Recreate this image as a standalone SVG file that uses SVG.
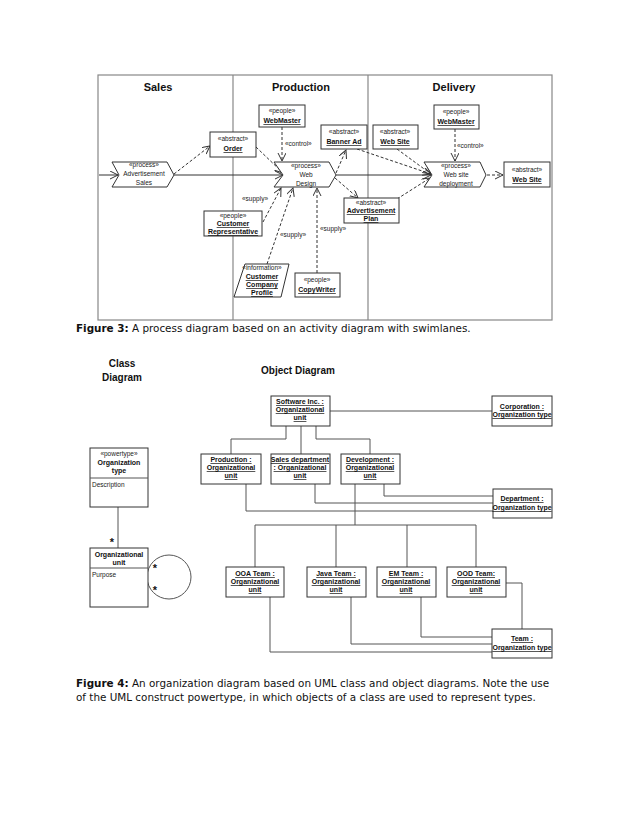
<svg xmlns="http://www.w3.org/2000/svg" width="638" height="826" viewBox="0 0 638 826">
<defs>
<marker id="arr" markerWidth="9" markerHeight="9" refX="8" refY="4" orient="auto" markerUnits="userSpaceOnUse">
<path d="M0,0 L8,4 L0,8" fill="none" stroke="#333" stroke-width="1"/>
</marker>
<style>
.frame{fill:none;stroke:#888;stroke-width:1.2}
.box{fill:#fff;stroke:#333;stroke-width:1}
.st{font-family:"Liberation Sans",Arial,sans-serif;font-size:6.5px;fill:#222;text-anchor:middle}
.nm{font-family:"Liberation Sans",Arial,sans-serif;font-size:7px;font-weight:bold;fill:#111;text-anchor:middle;text-decoration:underline}
.nb{font-family:"Liberation Sans",Arial,sans-serif;font-size:7px;font-weight:bold;fill:#111;text-anchor:middle}
.at{font-family:"Liberation Sans",Arial,sans-serif;font-size:6.5px;fill:#222}
.hd{font-family:"Liberation Sans",Arial,sans-serif;font-size:11px;font-weight:bold;fill:#111;text-anchor:middle}
.hd2{font-family:"Liberation Sans",Arial,sans-serif;font-size:10px;font-weight:bold;fill:#111;text-anchor:middle}
.cap{font-family:"DejaVu Sans",Verdana,sans-serif;font-size:10.4px;fill:#111}
.sol{fill:none;stroke:#333;stroke-width:1}
.dash{fill:none;stroke:#333;stroke-width:1;stroke-dasharray:3,2}
.ln{fill:none;stroke:#555;stroke-width:1}
.star{font-family:"Liberation Sans",Arial,sans-serif;font-size:11px;font-weight:bold;fill:#111;text-anchor:middle}
</style>
</defs>
<rect width="638" height="826" fill="#fff"/>

<!-- Figure 3 -->
<g id="swimlanes">
<rect class="frame" x="98" y="75" width="454" height="245"/>
<line class="frame" x1="233" y1="75" x2="233" y2="320"/>
<line class="frame" x1="368" y1="75" x2="368" y2="320"/>
<text class="hd" x="158" y="91">Sales</text>
<text class="hd" x="301" y="91">Production</text>
<text class="hd" x="454" y="91">Delivery</text>
</g>

<g id="connectors-fig3">
<line class="sol" x1="99" y1="175" x2="118" y2="175" marker-end="url(#arr)"/>
<line class="sol" x1="174" y1="175" x2="283" y2="175" marker-end="url(#arr)"/>
<line class="dash" x1="174" y1="174" x2="210" y2="146" marker-end="url(#arr)"/>
<line class="dash" x1="256" y1="147" x2="283" y2="173" marker-end="url(#arr)"/>
<line class="dash" x1="282" y1="127" x2="282" y2="161" marker-end="url(#arr)"/>
<text class="at" x="285" y="146">«control»</text>
<line class="dash" x1="336" y1="173" x2="346" y2="150" marker-end="url(#arr)"/>
<line class="sol" x1="336" y1="175" x2="431" y2="175" marker-end="url(#arr)"/>
<line class="dash" x1="357" y1="149" x2="431" y2="174" marker-end="url(#arr)"/>
<line class="dash" x1="397" y1="149" x2="431" y2="174" marker-end="url(#arr)"/>
<line class="dash" x1="335" y1="178" x2="358" y2="198" marker-end="url(#arr)"/>
<line class="dash" x1="397" y1="199" x2="430" y2="178" marker-end="url(#arr)"/>
<line class="dash" x1="455" y1="129" x2="455" y2="161" marker-end="url(#arr)"/>
<text class="at" x="457" y="148">«control»</text>
<line class="dash" x1="487" y1="175" x2="503" y2="175" marker-end="url(#arr)"/>
<line class="dash" x1="263" y1="222" x2="281" y2="188" marker-end="url(#arr)"/>
<text class="at" x="242" y="201">«supply»</text>
<line class="dash" x1="267" y1="264" x2="293" y2="188" marker-end="url(#arr)"/>
<text class="at" x="280" y="237">«supply»</text>
<line class="dash" x1="317" y1="273" x2="317" y2="188" marker-end="url(#arr)"/>
<text class="at" x="320" y="231">«supply»</text>
</g>

<g id="adv-sales">
<polygon class="box" points="112,162 167,162 174,175 167,187 112,187 119,175"/>
<text class="st" x="144" y="167">«process»</text>
<text class="st" x="144" y="176">Advertisement</text>
<text class="st" x="144" y="185">Sales</text>
</g>
<g id="order">
<rect class="box" x="210" y="132" width="46" height="25"/>
<text class="st" x="233" y="141">«abstract»</text>
<text class="nm" x="233" y="151">Order</text>
</g>
<g id="webmaster-prod">
<rect class="box" x="259" y="105" width="46" height="22"/>
<text class="st" x="282" y="113">«people»</text>
<text class="nm" x="282" y="123">WebMaster</text>
</g>
<g id="web-design">
<polygon class="box" points="274,162 329,162 336,175 329,187 274,187 283,175"/>
<text class="st" x="306" y="168">«process»</text>
<text class="st" x="306" y="177">Web</text>
<text class="st" x="306" y="186">Design</text>
</g>
<g id="banner-ad">
<rect class="box" x="321" y="125" width="46" height="24"/>
<text class="st" x="344" y="134">«abstract»</text>
<text class="nm" x="344" y="144">Banner Ad</text>
</g>
<g id="web-site-1">
<rect class="box" x="373" y="125" width="45" height="24"/>
<text class="st" x="395" y="134">«abstract»</text>
<text class="nm" x="395" y="144">Web Site</text>
</g>
<g id="webmaster-del">
<rect class="box" x="434" y="105" width="45" height="24"/>
<text class="st" x="456" y="114">«people»</text>
<text class="nm" x="456" y="124">WebMaster</text>
</g>
<g id="web-site-deployment">
<polygon class="box" points="424,162 480,162 486,175 480,187 424,187 432,175"/>
<text class="st" x="456" y="168">«process»</text>
<text class="st" x="456" y="177">Web site</text>
<text class="st" x="456" y="186">deployment</text>
</g>
<g id="web-site-2">
<rect class="box" x="504" y="162" width="46" height="25"/>
<text class="st" x="527" y="172">«abstract»</text>
<text class="nm" x="527" y="182">Web Site</text>
</g>
<g id="adv-plan">
<rect class="box" x="344" y="198" width="55" height="25"/>
<text class="st" x="371" y="205">«abstract»</text>
<text class="nm" x="371" y="213">Advertisement</text>
<text class="nm" x="371" y="221">Plan</text>
</g>
<g id="cust-rep">
<rect class="box" x="204" y="211" width="58" height="25"/>
<text class="st" x="233" y="218">«people»</text>
<text class="nm" x="233" y="226">Customer</text>
<text class="nm" x="233" y="234">Representative</text>
</g>
<g id="cust-profile">
<polygon class="box" points="245,264 289,264 281,297 234,297"/>
<text class="st" x="262" y="270">«information»</text>
<text class="nm" x="262" y="279">Customer</text>
<text class="nm" x="262" y="287">Company</text>
<text class="nm" x="262" y="295">Profile</text>
</g>
<g id="copywriter">
<rect class="box" x="295" y="273" width="45" height="24"/>
<text class="st" x="317" y="282">«people»</text>
<text class="nm" x="317" y="292">CopyWriter</text>
</g>

<text class="cap" x="76" y="332"><tspan font-weight="bold">Figure 3:</tspan> A process diagram based on an activity diagram with swimlanes.</text>

<!-- Figure 4 -->
<text class="hd2" x="122" y="367">Class</text>
<text class="hd2" x="122" y="381">Diagram</text>
<text class="hd2" x="298" y="374">Object Diagram</text>

<g id="connectors-fig4">
<line class="ln" x1="118" y1="507" x2="118" y2="548"/>
<circle class="ln" cx="169" cy="577" r="22"/>
<polyline class="ln" points="286,426 286,439 231,439 231,454"/>
<line class="ln" x1="301" y1="426" x2="301" y2="454"/>
<polyline class="ln" points="316,426 316,439 370,439 370,454"/>
<line class="ln" x1="330" y1="411" x2="492" y2="411"/>
<polyline class="ln" points="384,484 384,496 493,496"/>
<polyline class="ln" points="315,484 315,503 493,503"/>
<polyline class="ln" points="246,484 246,511 493,511"/>
<line class="ln" x1="355" y1="484" x2="355" y2="525"/>
<polyline class="ln" points="255,567 255,525 476,525 476,567"/>
<line class="ln" x1="336" y1="525" x2="336" y2="567"/>
<line class="ln" x1="407" y1="525" x2="407" y2="567"/>
<polyline class="ln" points="506,583 522,583 522,629"/>
<polyline class="ln" points="421,597 421,637 492,637"/>
<polyline class="ln" points="351,597 351,644 492,644"/>
<polyline class="ln" points="270,597 270,652 492,652"/>
</g>

<g id="org-type">
<rect class="box" x="90" y="448" width="58" height="59"/>
<line class="ln" x1="90" y1="478" x2="148" y2="478"/>
<text class="st" x="119" y="456">«powertype»</text>
<text class="nb" x="119" y="465">Organization</text>
<text class="nb" x="119" y="473">type</text>
<text class="at" x="92" y="487">Description</text>
</g>
<g id="org-unit">
<rect class="box" x="90" y="548" width="58" height="59"/>
<line class="ln" x1="90" y1="568" x2="148" y2="568"/>
<text class="nb" x="119" y="557">Organizational</text>
<text class="nb" x="119" y="565">unit</text>
<text class="at" x="92" y="577">Purpose</text>
<text class="star" x="112" y="546">*</text>
<text class="star" x="155" y="572">*</text>
<text class="star" x="155" y="594">*</text>
</g>

<g id="software-inc">
<rect class="box" x="271" y="396" width="59" height="30"/>
<text class="nm" x="300" y="404">Software Inc. :</text>
<text class="nm" x="300" y="412">Organizational</text>
<text class="nm" x="300" y="420">unit</text>
</g>
<g id="corporation">
<rect class="box" x="492" y="396" width="60" height="30"/>
<text class="nm" x="522" y="409">Corporation :</text>
<text class="nm" x="522" y="417">Organization type</text>
</g>
<g id="production">
<rect class="box" x="201" y="454" width="60" height="30"/>
<text class="nm" x="231" y="462">Production :</text>
<text class="nm" x="231" y="470">Organizational</text>
<text class="nm" x="231" y="478">unit</text>
</g>
<g id="sales-dept">
<rect class="box" x="271" y="454" width="59" height="30"/>
<text class="nm" x="300" y="462">Sales department</text>
<text class="nm" x="300" y="470">: Organizational</text>
<text class="nm" x="300" y="478">unit</text>
</g>
<g id="development">
<rect class="box" x="341" y="454" width="59" height="30"/>
<text class="nm" x="370" y="462">Development :</text>
<text class="nm" x="370" y="470">Organizational</text>
<text class="nm" x="370" y="478">unit</text>
</g>
<g id="department">
<rect class="box" x="493" y="489" width="59" height="29"/>
<text class="nm" x="522" y="501">Department :</text>
<text class="nm" x="522" y="510">Organization type</text>
</g>
<g id="ooa-team">
<rect class="box" x="226" y="567" width="58" height="30"/>
<text class="nm" x="255" y="576">OOA Team :</text>
<text class="nm" x="255" y="584">Organizational</text>
<text class="nm" x="255" y="592">unit</text>
</g>
<g id="java-team">
<rect class="box" x="307" y="567" width="59" height="30"/>
<text class="nm" x="336" y="576">Java Team :</text>
<text class="nm" x="336" y="584">Organizational</text>
<text class="nm" x="336" y="592">unit</text>
</g>
<g id="em-team">
<rect class="box" x="377" y="567" width="59" height="30"/>
<text class="nm" x="406" y="576">EM Team :</text>
<text class="nm" x="406" y="584">Organizational</text>
<text class="nm" x="406" y="592">unit</text>
</g>
<g id="ood-team">
<rect class="box" x="447" y="567" width="59" height="30"/>
<text class="nm" x="476" y="576">OOD Team:</text>
<text class="nm" x="476" y="584">Organizational</text>
<text class="nm" x="476" y="592">unit</text>
</g>
<g id="team">
<rect class="box" x="492" y="629" width="60" height="29"/>
<text class="nm" x="522" y="641">Team :</text>
<text class="nm" x="522" y="650">Organization type</text>
</g>

<text class="cap" x="76" y="687"><tspan font-weight="bold">Figure 4:</tspan> An organization diagram based on UML class and object diagrams. Note the use</text>
<text class="cap" x="76" y="701">of the UML construct powertype, in which objects of a class are used to represent types.</text>
</svg>
